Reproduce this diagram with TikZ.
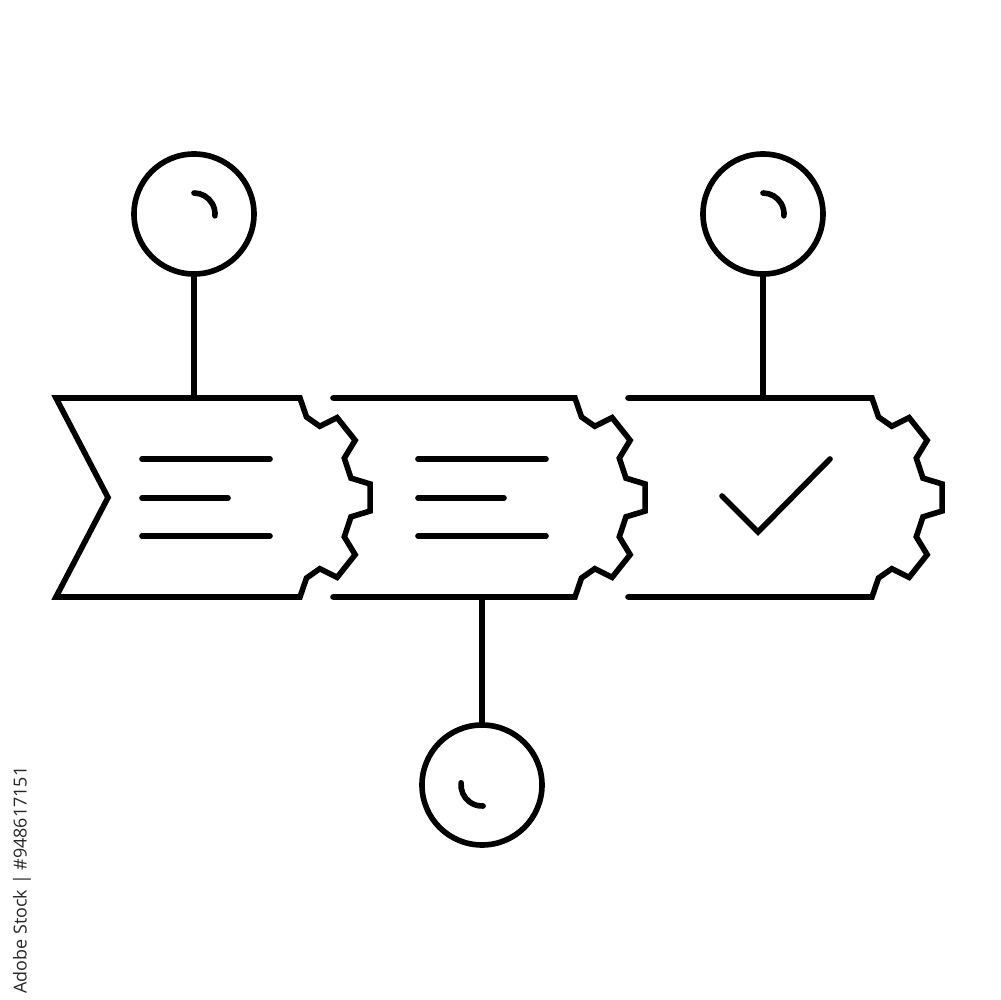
\documentclass[tikz,border=0pt]{standalone}
\usepackage{fontspec}
\newfontfamily\wmfont{Open Sans}
\usetikzlibrary{calc}

\begin{document}
\begin{tikzpicture}[x=.1mm, y=.1mm, line width=1.6pt, line cap=round,
  clock/.style={circle, draw, minimum size=12mm, inner sep=0pt},
  gear/.style={insert path={\foreach \a/\r in {60/93,50/93,46/111,31/111,25/93,12/93,7/111,-7/111,-12/93,-25/93,-31/111,-46/111,-50/93,-60/93} {-- ($(#1)+(\a:\r)$)}}}]
\useasboundingbox (0,0) rectangle (1000,1000);
% gear centres
\coordinate (g1) at (260,502.5);
\coordinate (g2) at (535,502.5);
\coordinate (g3) at (832,502.5);
% panels
\draw (56,602) -- (300,602) [gear=g1] -- (300,403) -- (56,403) -- (108,502.5) -- cycle;
\draw (333,602) -- (575,602) [gear=g2] -- (575,403) -- (333,403);
\draw (628,602) -- (872,602) [gear=g3] -- (872,403) -- (628,403);
% text lines
\foreach \x in {142,418} {
 \draw (\x,541) --++(128,0);
 \draw (\x,502) --++(86,0);
 \draw (\x,464) --++(128,0);
}
% check mark
\draw (722,504) -- (758,468) -- (830,541);
% clocks
\node[clock] (c1) at (194,786) {};
\node[clock] (c2) at (763,786) {};
\node[clock] (c3) at (482,215) {};
\coordinate (t1) at (194,602);
\coordinate (t2) at (763,602);
\coordinate (b3) at (482,403);
\draw (c1.south) -- (t1);
\draw (c2.south) -- (t2);
\draw (c3.north) -- (b3);
\draw ([shift={(90:2.1mm)}]c1.center) arc[start angle=90, end angle=-5, radius=2.1mm];
\draw ([shift={(90:2.1mm)}]c2.center) arc[start angle=90, end angle=-5, radius=2.1mm];
\draw ([shift={(174:2.1mm)}]c3.center) arc[start angle=174, end angle=273, radius=2.1mm];
% side label
\node[rotate=90, text=black!85, font=\wmfont\fontsize{5.1}{6}\selectfont] (wm) at (22,120) {Adobe Stock | \#948617151};
\end{tikzpicture}
\end{document}
